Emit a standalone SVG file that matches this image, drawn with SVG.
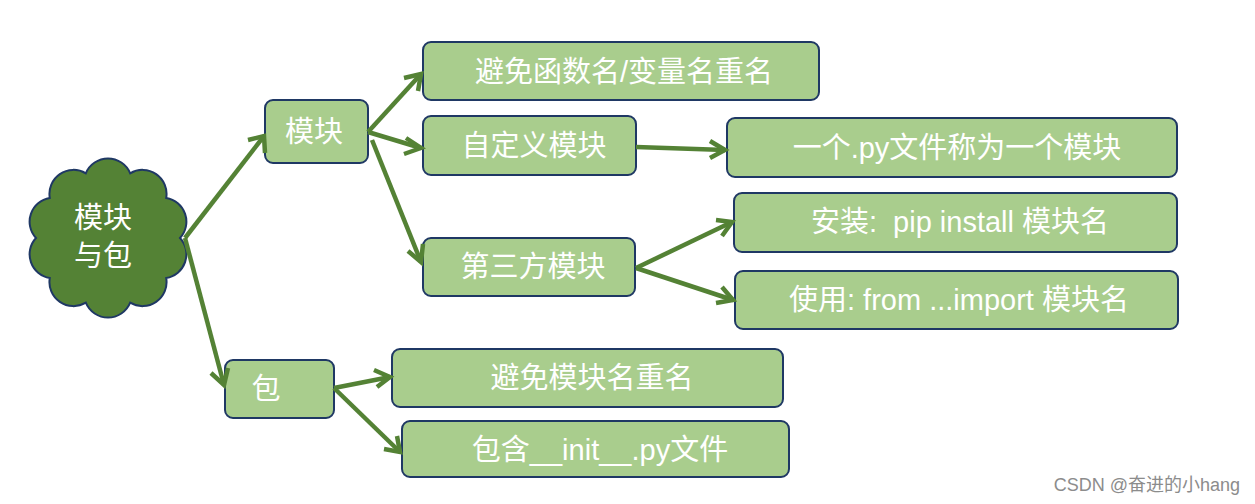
<svg xmlns="http://www.w3.org/2000/svg" width="1255" height="504" viewBox="0 0 1255 504">
<style>
.box{fill:#a9cd8d;stroke:#1f3864;stroke-width:2}
.t{font-family:"Liberation Sans","Noto Sans CJK SC",sans-serif;font-size:29px;fill:#fff;text-anchor:middle;dominant-baseline:central}
.c line{stroke:#548235;stroke-width:4.5}
.c polyline{fill:none;stroke:#548235;stroke-width:4.5;stroke-linejoin:miter}
</style>
<rect width="1255" height="504" fill="#fff"/>
<g id="root">
<path d="M180,238 A24,24 0 0,0 166.2,198 A24,24 0 0,0 130.2,173.3 A24,24 0 0,0 85.8,173.3 A24,24 0 0,0 49.8,198 A24,24 0 0,0 36,238 A24,24 0 0,0 49.8,278 A24,24 0 0,0 85.8,302.7 A24,24 0 0,0 130.2,302.7 A24,24 0 0,0 166.2,278 A24,24 0 0,0 180,238 Z" fill="#548235" stroke="#1f3864" stroke-width="2"/>
<text class="t" x="103" y="218">模块</text><text class="t" x="103" y="256">与包</text>
</g>
<g id="n1"><rect class="box" x="265" y="100" width="103" height="63" rx="8"/><text class="t" x="314" y="132">模块</text></g>
<g id="n2"><rect class="box" x="423" y="42" width="396" height="58" rx="8"/><text class="t" x="624" y="72">避免函数名/变量名重名</text></g>
<g id="n3"><rect class="box" x="423" y="116" width="213" height="59" rx="8"/><text class="t" x="534" y="146">自定义模块</text></g>
<g id="n4"><rect class="box" x="727" y="118" width="450" height="59" rx="8"/><text class="t" x="957" y="148">一个.py文件称为一个模块</text></g>
<g id="n5"><rect class="box" x="423" y="238" width="212" height="58" rx="8"/><text class="t" x="533" y="267">第三方模块</text></g>
<g id="n6"><rect class="box" x="734" y="193" width="443" height="59" rx="8"/><text class="t" x="960" y="222" xml:space="preserve">安装:  pip install 模块名</text></g>
<g id="n7"><rect class="box" x="735" y="271" width="443" height="58" rx="8"/><text class="t" x="959" y="300">使用: from ...import 模块名</text></g>
<g id="n8"><rect class="box" x="225" y="360" width="109" height="58" rx="8"/><text class="t" x="266" y="389">包</text></g>
<g id="n9"><rect class="box" x="392" y="349" width="391" height="58" rx="8"/><text class="t" x="592" y="378">避免模块名重名</text></g>
<g id="n10"><rect class="box" x="402" y="421" width="387" height="56" rx="8"/><text class="t" x="600" y="450">包含__init__.py文件</text></g>
<g class="c" id="connectors">
<line x1="185" y1="238" x2="264" y2="136"/><polyline points="248,140 264,136 265,153"/>
<line x1="185" y1="238" x2="224" y2="385"/><polyline points="211,373 224,385 228,368"/>
<line x1="368" y1="132" x2="421" y2="74"/><polyline points="404,78 421,74 418,91"/>
<line x1="368" y1="132" x2="421" y2="148"/><polyline points="406,138 421,148 404,154"/>
<line x1="372" y1="140" x2="421" y2="262"/><polyline points="408,251 421,262 423,244"/>
<line x1="636" y1="147" x2="725" y2="150"/><polyline points="710,141 725,150 710,158"/>
<line x1="636" y1="268" x2="732" y2="222"/><polyline points="716,220 732,222 722,236"/>
<line x1="636" y1="268" x2="733" y2="300"/><polyline points="722,287 733,300 716,303"/>
<line x1="334" y1="388" x2="390" y2="377"/><polyline points="374,370 390,377 377,387"/>
<line x1="334" y1="388" x2="400" y2="452"/><polyline points="397,436 400,452 384,449"/>
</g>
<text x="1240" y="491" font-family="'Liberation Sans','Noto Sans CJK SC',sans-serif" font-size="18" fill="#8c8c8c" text-anchor="end">CSDN @奋进的小hang</text>
</svg>
